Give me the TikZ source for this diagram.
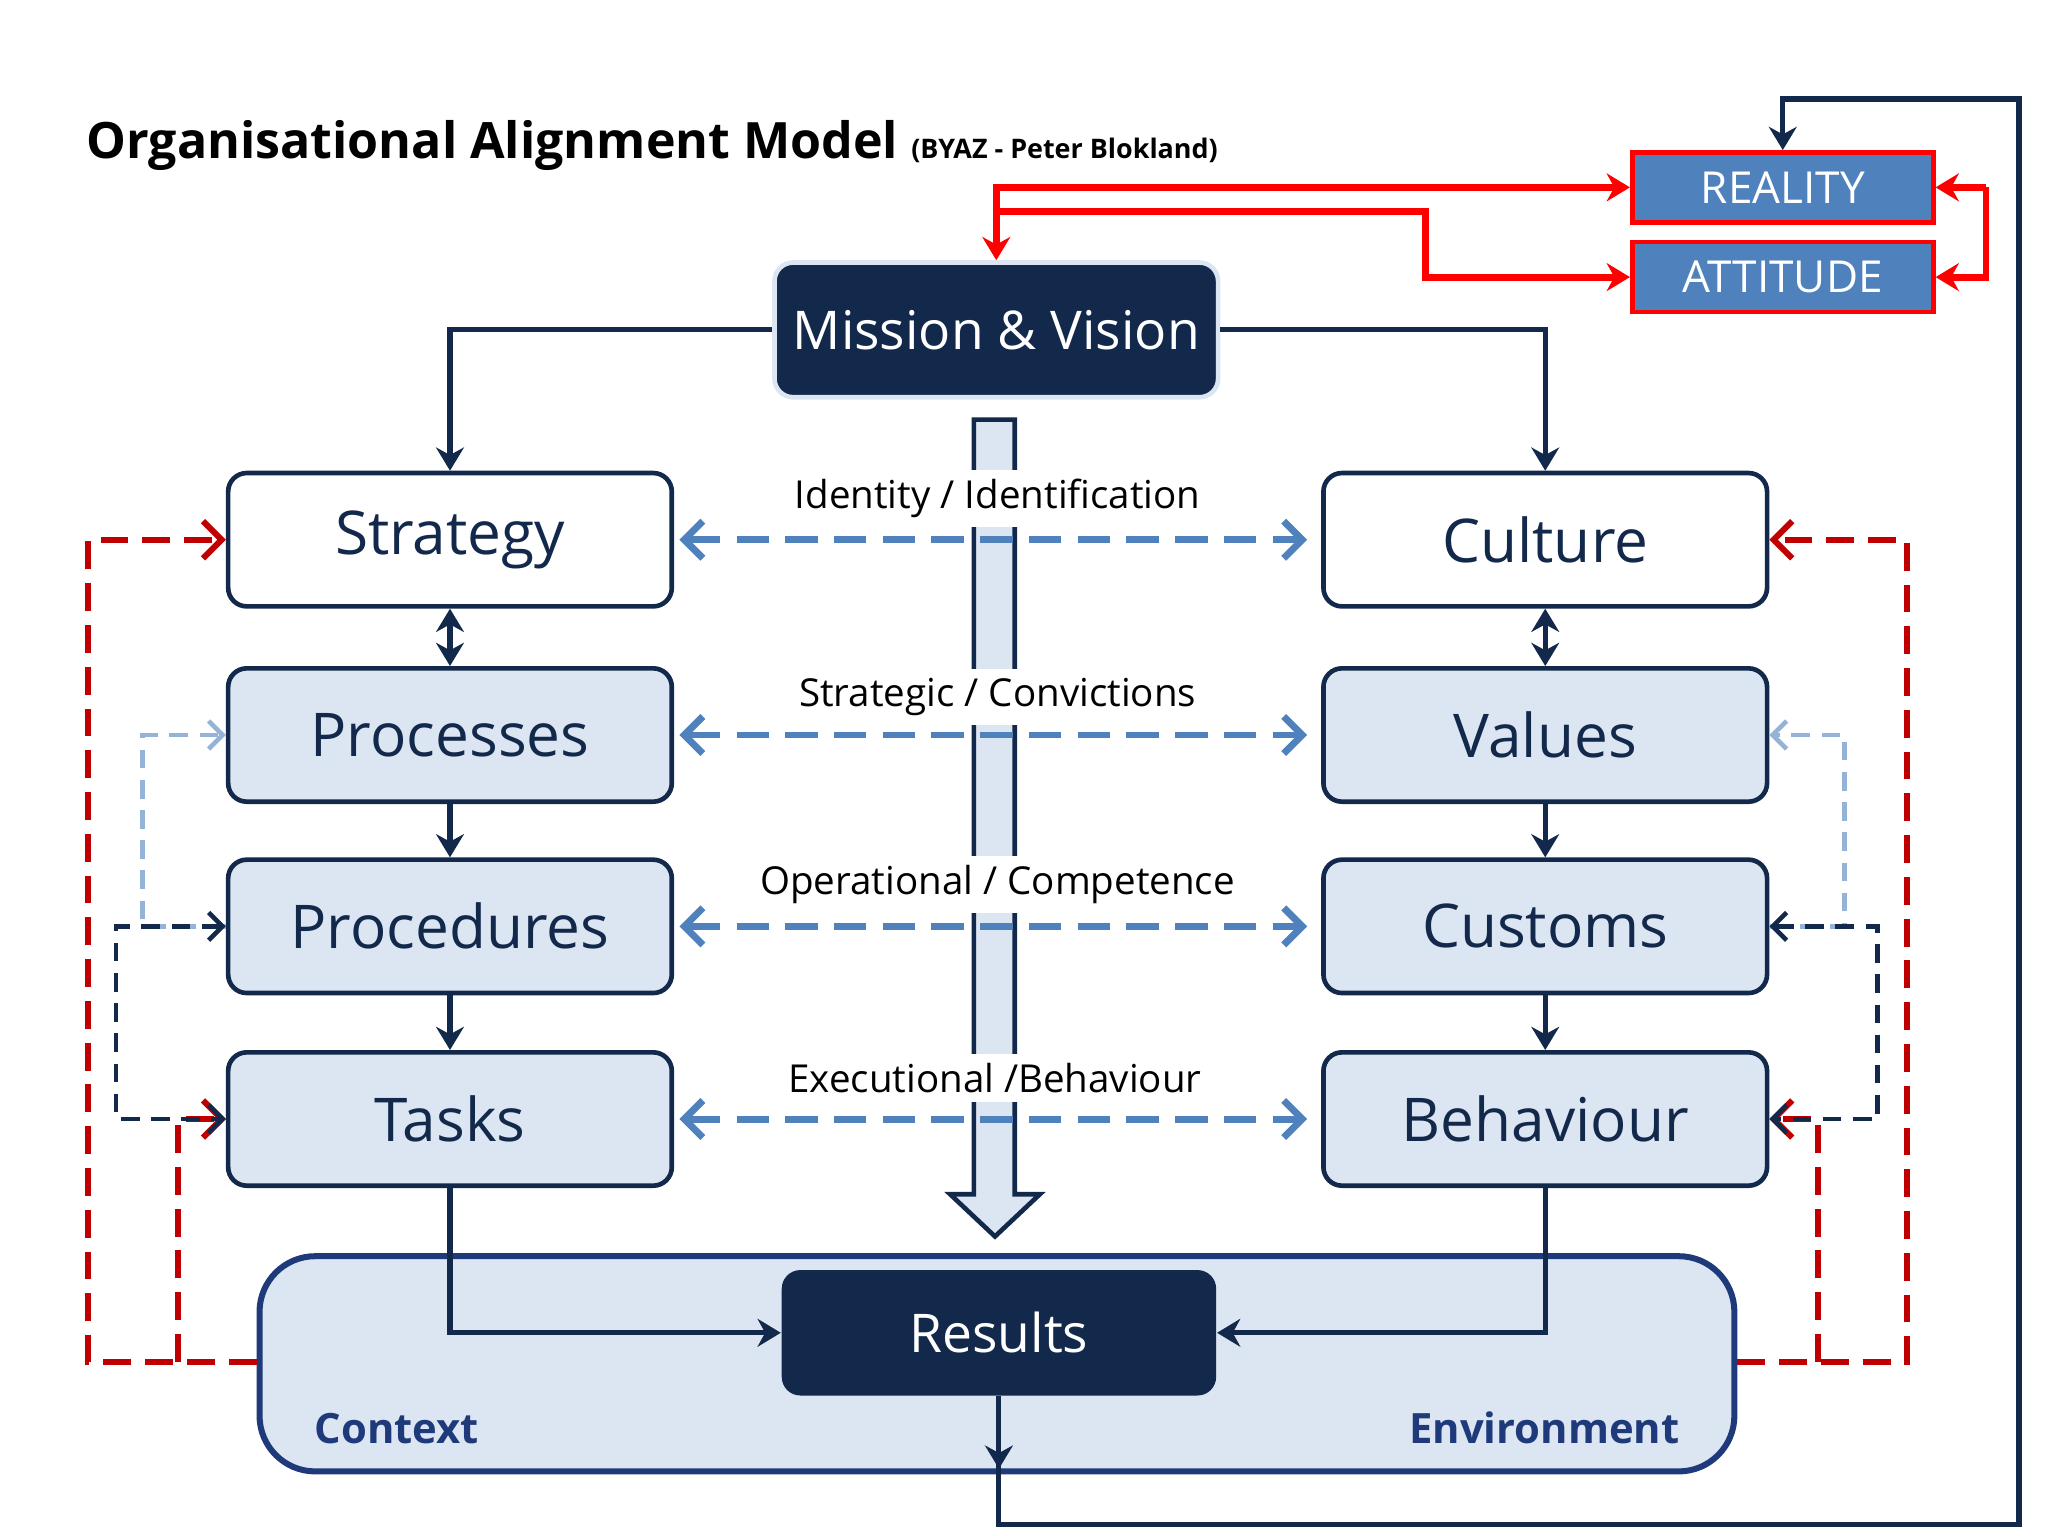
\documentclass[tikz,border=0pt]{standalone}
\usepackage{fontspec}
\setmainfont{Open Sans}
\usetikzlibrary{arrows.meta}
\definecolor{navy}{HTML}{13294B}
\definecolor{lblue}{HTML}{DCE6F2}
\definecolor{mblue}{HTML}{4F81BD}
\definecolor{pblue}{HTML}{95B3D7}
\definecolor{dred}{HTML}{C00000}
\definecolor{cblue}{HTML}{1F3A7A}
\begin{document}
\begin{tikzpicture}[x=0.01cm,y=-0.01cm,
 box/.style={draw=navy,line width=1pt,rounded corners=4pt,fill=lblue,minimum width=3.36cm,minimum height=1.01cm,font=\fontsize{13}{15}\selectfont,text=navy},
 dark/.style={fill=navy,rounded corners=4pt,text=white,font=\fontsize{11.5}{13}\selectfont,inner sep=0pt},
 rbox/.style={draw=red,line width=1pt,fill=mblue,text=white,minimum width=2.28cm,minimum height=0.53cm,inner sep=0pt,font=\fontsize{9.5}{11}\selectfont},
 con/.style={navy,line width=1.1pt,-{Stealth[length=5pt,width=6pt]}},
 dcon/.style={navy,line width=1.1pt,{Stealth[length=5pt,width=6pt]}-{Stealth[length=5pt,width=6pt]}},
 rcon/.style={red,line width=1.5pt,{Stealth[length=5pt,width=6pt]}-{Stealth[length=5pt,width=6pt]}},
 bd/.style={mblue,line width=1.5pt,dash pattern=on 7pt off 3.5pt,{Straight Barb[length=4pt,width=8pt]}-{Straight Barb[length=4pt,width=8pt]}},
 rd/.style={dred,line width=1.3pt,dash pattern=on 6pt off 3pt,-{Straight Barb[length=4pt,width=8pt]}},
 pd/.style={pblue,line width=1pt,dash pattern=on 4pt off 2.5pt,-{Straight Barb[length=3pt,width=6pt]}},
 nd/.style={navy,line width=1pt,dash pattern=on 4pt off 2.5pt,{Straight Barb[length=3pt,width=6pt]}-{Straight Barb[length=3pt,width=6pt]}},
 lab/.style={fill=white,inner sep=2pt,font=\fontsize{8.3}{10}\selectfont,text=black}]
\useasboundingbox (0,0) rectangle (1552,1164);
% title
\node[anchor=base west,inner sep=0,font=\bfseries\fontsize{10.8}{13}\selectfont] (title) at (65,120) {Organisational Alignment Model \fontsize{5.8}{7}\selectfont(BYAZ - Peter Blokland)};
% context
\node[draw=cblue,line width=1.3pt,fill=lblue,rounded corners=12pt,minimum width=11.17cm,minimum height=1.63cm] (ctx) at (755.5,1033.5) {};
\node[anchor=base west,font=\bfseries\fontsize{9}{11}\selectfont,text=cblue] (ctxl) at (226,1094) {Context};
\node[anchor=base east,font=\bfseries\fontsize{9}{11}\selectfont,text=cblue] (envl) at (1285,1094) {Environment};
% big arrow
\draw[navy,line width=1pt,fill=lblue] (738,318)--(769,318)--(769,905)--(788,905)--(754,937)--(720,905)--(738,905)--cycle;
% boxes
\node[box,fill=white] (strat) at (341,409) {Strategy};
\node[box] (proc) at (341,557) {Processes};
\node[box] (pced) at (341,702) {Procedures};
\node[box] (task) at (341,848) {Tasks};
\node[box,fill=white] (cult) at (1171,409) {Culture};
\node[box] (val) at (1171,557) {Values};
\node[box] (cust) at (1171,702) {Customs};
\node[box] (beh) at (1171,848) {Behaviour};
\node[dark,draw=lblue,line width=1pt,minimum width=3.36cm,minimum height=1.02cm] (mv) at (755,250) {Mission \& Vision};
\node[dark,minimum width=3.29cm,minimum height=0.95cm] (res) at (757,1010) {Results};
\node[rbox] (real) at (1351,142) {REALITY};
\node[rbox] (att) at (1351,210) {ATTITUDE};
% labels
\node[lab] (l1) at (756,378) {Identity / Identification};
\node[lab] (l2) at (756,528) {Strategic / Convictions};
\node[lab] (l3) at (756,670) {Operational / Competence};
\node[lab] (l4) at (754,817) {Executional /Behaviour};
% blue dashed
\draw[bd] (strat.east)++(4,0) -- ([xshift=-3]cult.west);
\draw[bd] (proc.east)++(4,0) -- ([xshift=-3]val.west);
\draw[bd] (pced.east)++(4,0) -- ([xshift=-3]cust.west);
\draw[bd] (task.east)++(4,0) -- ([xshift=-3]beh.west);
% solid connectors
\draw[con] (mv.west) -| (strat.north);
\draw[con] (mv.east) -| (cult.north);
\draw[dcon] (strat) -- (proc);
\draw[dcon] (cult) -- (val);
\draw[con] (proc) -- (pced);
\draw[con] (pced) -- (task);
\draw[con] (val) -- (cust);
\draw[con] (cust) -- (beh);
\draw[con] (task.south) |- (res.west);
\draw[con] (beh.south) |- (res.east);
\draw[con] (res.south) -- (757,1113);
\coordinate (c1) at (757,1155); \coordinate (c2) at (1530,75);
\draw[con] (757,1100) -- (c1) -| (c2) -| (real.north);
% red solid
\draw[rcon] (mv.north) |- (real.west);
\draw[red,line width=1.5pt,-{Stealth[length=5pt,width=6pt]}] (757,160) -| (1080,210) -- (att.west);
\coordinate (rr) at (1505,142); \coordinate (ra) at (1505,210);
\draw[red,line width=1.5pt,-{Stealth[length=5pt,width=6pt]}] (rr) -- (real.east);
\draw[red,line width=1.5pt,-{Stealth[length=5pt,width=6pt]}] (rr) -- (ra) -- (att.east);
% red dashed
\draw[rd] (ctx.west|-0,1032) -- (67,1032) |- (strat.west);
\draw[rd] (135,1032) |- (task.west);
\draw[rd] (ctx.east|-0,1032) -- (1445,1032) |- (cult.east);
\draw[rd] (1378,1032) |- (beh.east);
% light blue dashed
\draw[pd] (pced.west) -- (108,702) |- (proc.west);
\draw[pd] (cust.east) -- (1398,702) |- (val.east);
% navy dashed
\draw[nd] (pced.west) -- (88,702) |- (task.west);
\draw[nd] (cust.east) -- (1423,702) |- (beh.east);
\end{tikzpicture}
\end{document}
